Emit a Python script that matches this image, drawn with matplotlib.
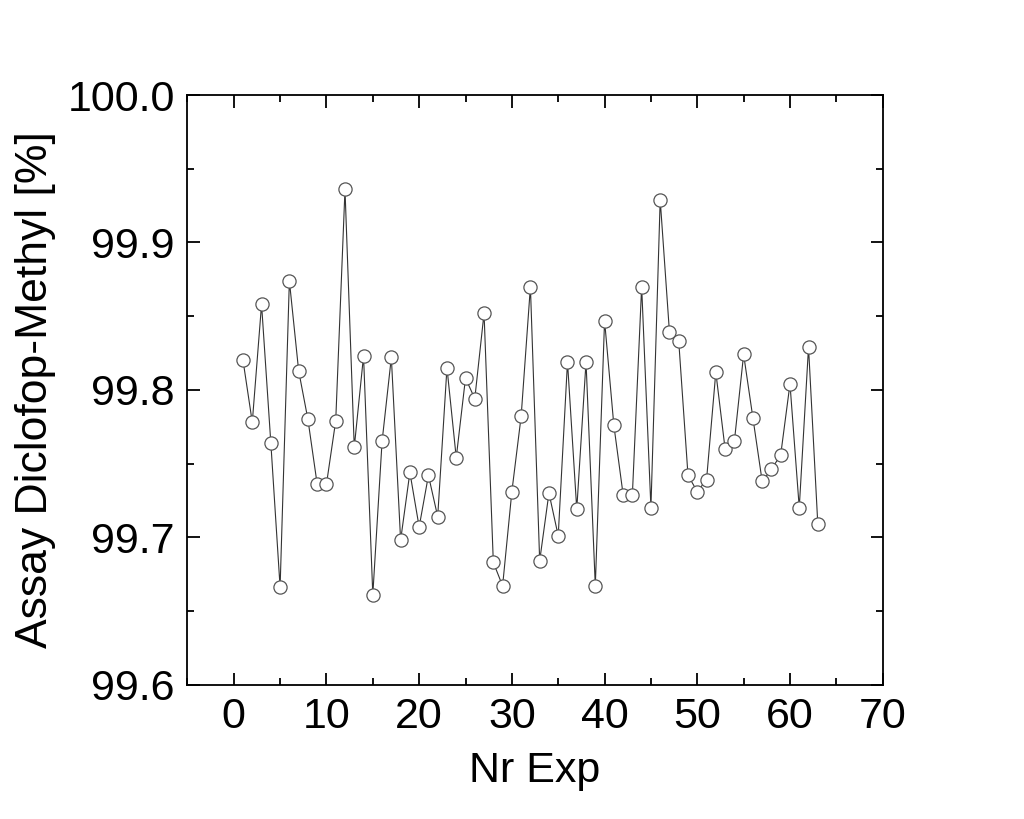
import matplotlib
matplotlib.use("Agg")
import matplotlib.pyplot as plt
from matplotlib.ticker import MultipleLocator

nr_exp = list(range(1, 64))
assay = [99.820, 99.778, 99.858, 99.764, 99.666, 99.874, 99.813, 99.780, 99.736, 99.736,
         99.779, 99.936, 99.761, 99.823, 99.661, 99.765, 99.822, 99.698, 99.744, 99.707,
         99.742, 99.714, 99.815, 99.754, 99.808, 99.794, 99.852, 99.683, 99.667, 99.731,
         99.782, 99.870, 99.684, 99.730, 99.701, 99.819, 99.719, 99.819, 99.667, 99.847,
         99.776, 99.729, 99.729, 99.870, 99.720, 99.929, 99.839, 99.833, 99.742, 99.731,
         99.739, 99.812, 99.760, 99.765, 99.824, 99.781, 99.738, 99.746, 99.756, 99.804,
         99.720, 99.829, 99.709]

plt.rcParams['font.family'] = ['Liberation Sans', 'DejaVu Sans']
fig = plt.figure(figsize=(10.24, 8.19), dpi=100)
ax = fig.add_axes([0.183, 0.164, 0.679, 0.720])
ax.plot(nr_exp, assay, color='#333333', lw=0.8, marker='o', ms=9.5,
        mfc='white', mec='#555555', mew=0.9)
ax.set_xlim(-5, 70)
ax.set_ylim(99.6, 100.0)
ax.xaxis.set_major_locator(MultipleLocator(10))
ax.xaxis.set_minor_locator(MultipleLocator(5))
ax.yaxis.set_major_locator(MultipleLocator(0.1))
ax.yaxis.set_minor_locator(MultipleLocator(0.05))
ax.yaxis.set_major_formatter(matplotlib.ticker.FormatStrFormatter('%.1f'))
ax.tick_params(which='both', direction='in', top=True, right=True, width=1.3)
ax.tick_params(which='major', length=9, labelsize=31, pad=9)
ax.tick_params(which='minor', length=5)
for s in ax.spines.values():
    s.set_linewidth(1.3)
ax.set_xlabel('Nr Exp', fontsize=31, labelpad=10)
ax.set_ylabel('Assay Diclofop-Methyl [%]', fontsize=32, labelpad=8)
fig.savefig('out.png', dpi=100)
